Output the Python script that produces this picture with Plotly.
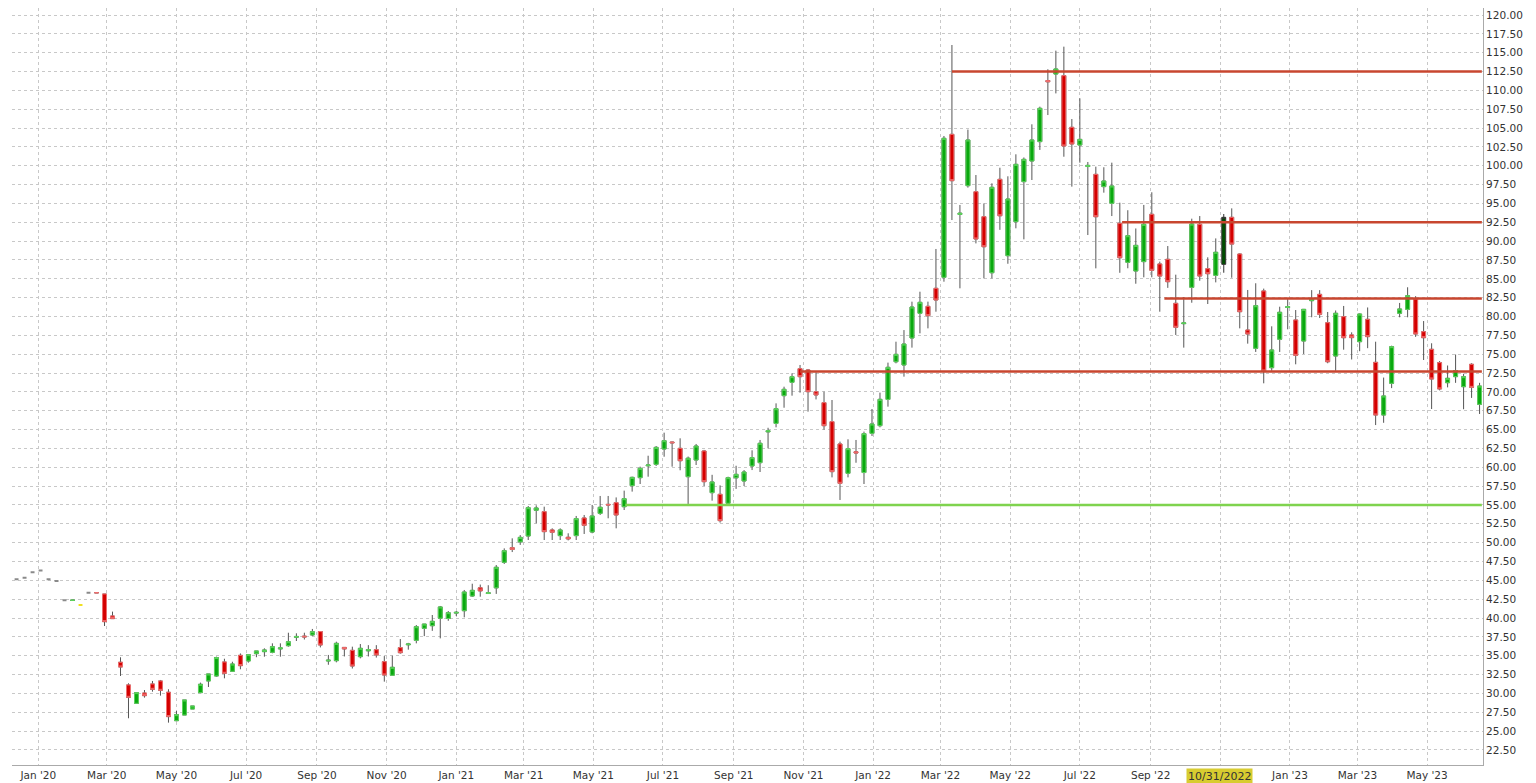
import plotly.graph_objects as go
import pandas as pd

# weekly candles, first week ending 2019-12-13
dates = pd.date_range("2019-12-13", periods=184, freq="7D")

opens = [45.14, 45.35, 46.07, 46.3, 45.14, 44.9, 42.35, 42.33, 41.73, 43.36,
         43.38, 43.19, 40.27, 34.13, 31.12, 28.68, 30.05, 31.25, 31.65, 30.15,
         26.38, 27.13, 27.93, 30.1, 31.65, 32.31, 34.17, 32.93, 35.05, 34.3,
         35.27, 35.54, 35.45, 35.9, 36.33, 37.45, 37.6, 37.75, 38.2, 34.3,
         34.34, 36.1, 35.71, 34.87, 35.65, 35.8, 34.21, 32.4, 36.07, 36.45,
         37.04, 38.63, 38.98, 39.98, 39.94, 40.65, 40.97, 42.92, 44.0, 43.25,
         44.0, 47.39, 49.33, 50.1, 50.88, 54.3, 54.11, 51.68, 50.93, 50.71,
         50.93, 53.27, 51.41, 53.89, 55.08, 55.3, 54.77, 57.56, 58.62, 60.2,
         60.39, 62.42, 63.35, 62.51, 58.75, 60.96, 62.16, 56.63, 56.41, 55.22,
         58.6, 58.18, 60.17, 60.61, 64.7, 65.82, 69.5, 71.27, 73.08, 72.91,
         70.03, 68.57, 66.05, 63.09, 59.2, 62.05, 59.3, 64.5, 65.52, 69.0,
         74.0, 73.57, 77.15, 80.43, 81.35, 83.74, 85.2, 104.17, 93.55, 97.36,
         96.56, 93.24, 85.81, 98.2, 88.07, 92.58, 97.89, 100.63, 103.2, 111.3,
         112.17, 111.95, 105.1, 102.75, 99.9, 98.86, 97.23, 95.02, 92.37, 87.19,
         86.04, 87.28, 93.56, 86.97, 87.59, 81.75, 79.05, 83.87, 92.23, 86.35,
         85.46, 86.92, 93.16, 88.29, 78.21, 75.78, 83.39, 73.21, 76.98, 81.2,
         79.54, 76.75, 82.1, 82.94, 79.18, 74.76, 79.98, 77.55, 76.66, 79.63,
         73.92, 66.93, 71.14, 80.43, 80.95, 82.32, 77.99, 75.65, 73.88, 71.22,
         72.02, 70.69, 73.66, 68.35]
highs = [45.14, 45.35, 46.07, 46.3, 45.14, 44.9, 42.35, 42.37, 41.73, 43.36,
         43.38, 43.19, 40.85, 34.79, 31.34, 30.1, 30.45, 31.65, 31.78, 30.55,
         27.67, 29.13, 28.33, 31.43, 32.58, 34.88, 34.6, 34.2, 35.3, 35.14,
         35.63, 35.98, 36.64, 36.64, 38.05, 37.97, 38.05, 38.55, 38.2, 35.1,
         36.86, 36.1, 36.2, 36.55, 36.4, 36.4, 34.95, 35.0, 37.21, 36.7,
         39.07, 39.2, 40.4, 41.6, 40.93, 40.93, 43.72, 44.55, 44.44, 44.35,
         47.03, 49.24, 50.57, 51.0, 54.86, 54.95, 54.77, 51.9, 51.9, 51.24,
         53.54, 53.67, 55.0, 56.19, 56.19, 56.0, 56.9, 58.75, 60.08, 61.53,
         62.82, 64.59, 63.4, 63.84, 61.42, 63.09, 62.3, 59.0, 57.6, 58.75,
         60.2, 59.63, 62.25, 63.62, 65.24, 68.48, 70.69, 72.46, 73.57, 73.04,
         72.6, 70.03, 68.92, 63.4, 63.71, 63.62, 64.73, 67.73, 69.9, 73.88,
         76.66, 78.2, 81.97, 83.29, 81.97, 88.96, 103.95, 116.02, 94.8, 104.8,
         98.77, 95.0, 97.67, 99.74, 98.6, 101.52, 101.1, 105.5, 107.84, 112.8,
         115.27, 115.8, 106.2, 108.95, 100.5, 99.88, 99.8, 100.41, 95.1, 94.1,
         91.68, 94.8, 96.48, 87.28, 89.35, 85.55, 82.58, 92.98, 93.33, 87.85,
         90.36, 93.6, 94.35, 88.38, 83.52, 84.41, 83.7, 78.7, 81.3, 82.3,
         80.86, 81.0, 83.5, 83.5, 80.6, 80.8, 81.4, 77.9, 80.4, 81.2,
         76.66, 71.9, 76.13, 81.8, 83.88, 82.7, 79.4, 76.45, 74.1, 73.5,
         74.96, 72.4, 73.8, 71.2]
lows = [45.14, 45.35, 46.07, 46.3, 45.14, 44.9, 42.35, 42.33, 41.73, 43.36,
        43.34, 38.94, 39.92, 32.31, 26.7, 28.6, 29.44, 30.23, 29.7, 26.12,
        26.3, 27.13, 27.93, 30.1, 30.85, 32.22, 32.0, 32.84, 33.2, 34.08,
        34.8, 34.87, 35.32, 34.87, 36.2, 36.95, 37.15, 37.6, 36.1, 33.8,
        34.12, 34.9, 33.3, 34.65, 34.9, 34.75, 31.56, 32.4, 35.27, 35.8,
        36.64, 37.6, 38.3, 37.3, 39.63, 40.27, 40.09, 42.83, 42.83, 43.2,
        43.2, 47.17, 48.75, 49.7, 50.35, 52.57, 50.35, 50.35, 50.35, 50.3,
        50.35, 51.15, 51.24, 53.67, 53.23, 51.9, 54.33, 56.77, 57.78, 58.75,
        60.17, 61.4, 60.08, 59.6, 55.13, 60.3, 57.51, 55.57, 52.66, 55.0,
        57.13, 57.51, 59.63, 59.37, 62.51, 65.3, 67.9, 69.5, 69.9, 67.38,
        69.0, 64.99, 58.66, 55.66, 58.66, 60.6, 57.78, 64.15, 65.3, 68.04,
        73.79, 72.02, 75.87, 77.77, 78.43, 80.64, 84.62, 92.8, 83.74, 97.1,
        89.7, 85.06, 85.06, 91.5, 87.0, 91.7, 90.24, 98.11, 102.1, 106.73,
        109.6, 101.2, 97.23, 100.41, 90.81, 86.39, 96.43, 93.33, 85.8, 86.4,
        84.35, 85.2, 85.2, 80.64, 83.8, 77.55, 75.87, 81.83, 84.75, 81.66,
        84.53, 85.81, 85.15, 78.43, 76.4, 75.3, 71.14, 72.8, 75.3, 78.3,
        73.66, 75.03, 79.9, 79.8, 73.8, 72.8, 75.6, 74.3, 75.4, 75.8,
        65.6, 65.9, 70.5, 79.9, 79.9, 77.3, 74.23, 67.73, 70.2, 70.6,
        71.2, 67.7, 69.2, 67.07]
closes = [45.14, 45.35, 46.07, 46.3, 45.14, 44.9, 42.35, 42.37, 41.73, 43.36,
          43.34, 39.52, 39.92, 33.5, 29.48, 30.1, 29.7, 30.54, 30.41, 26.92,
          27.18, 29.13, 28.33, 31.21, 32.58, 34.75, 32.67, 33.9, 33.68, 35.14,
          35.63, 35.76, 36.2, 36.03, 36.86, 37.55, 37.5, 38.19, 36.42, 34.4,
          36.64, 35.9, 33.63, 35.98, 35.8, 35.1, 32.44, 33.46, 35.4, 36.55,
          38.85, 39.2, 39.56, 41.47, 40.71, 40.75, 43.45, 43.67, 43.6, 43.35,
          46.73, 48.93, 49.1, 50.7, 54.64, 54.6, 51.46, 51.37, 51.68, 50.5,
          53.18, 52.3, 53.54, 54.69, 55.0, 53.67, 55.83, 58.66, 59.86, 60.3,
          62.64, 63.53, 63.25, 60.87, 61.2, 62.82, 58.09, 58.05, 52.92, 58.62,
          59.06, 59.37, 61.28, 63.18, 64.85, 67.77, 70.34, 72.02, 72.02, 70.03,
          69.59, 65.52, 59.42, 57.87, 62.47, 61.9, 64.46, 65.74, 69.01, 73.26,
          74.98, 76.35, 81.26, 81.88, 80.11, 82.19, 103.64, 98.02, 93.7, 103.42,
          90.28, 89.26, 97.14, 93.37, 95.59, 100.19, 100.85, 103.42, 107.62, 111.15,
          112.84, 102.62, 102.89, 103.5, 100.05, 93.24, 97.98, 97.32, 87.8, 90.72,
          89.44, 92.23, 86.13, 85.37, 84.62, 78.57, 79.15, 92.27, 85.37, 85.68,
          88.52, 93.16, 89.61, 80.64, 77.68, 81.43, 72.77, 75.56, 80.56, 81.3,
          74.85, 80.95, 82.32, 80.29, 74.0, 80.43, 77.19, 77.2, 80.33, 77.33,
          66.93, 69.46, 76.0, 81.0, 82.76, 77.68, 77.19, 71.71, 70.39, 71.8,
          72.82, 72.02, 70.6, 70.78]

grey_idx = [0, 1, 2, 3, 4, 5, 6, 9]
yellow_idx = [8]
selected_idx = [151]

# support / resistance lines: (start date, level, colour)
levels = [("2022-03-11", 112.5, "#c8462f"),
          ("2022-08-07", 92.5, "#c8462f"),
          ("2022-09-13", 82.4, "#c8462f"),
          ("2021-10-29", 72.7, "#c8462f"),
          ("2021-05-29", 55.0, "#7fd34e")]
line_end = "2023-06-18"

df = pd.DataFrame({"date": dates, "open": opens, "high": highs, "low": lows, "close": closes})
special = set(grey_idx + yellow_idx + selected_idx)
normal = df[~df.index.isin(special)]

fig = go.Figure()

# wicks
fig.add_trace(go.Candlestick(
    x=normal["date"], open=normal["open"], high=normal["high"], low=normal["low"], close=normal["close"],
    increasing=dict(line=dict(color="#555555", width=1), fillcolor="#0aa80f"),
    decreasing=dict(line=dict(color="#555555", width=1), fillcolor="#d40000"),
    whiskerwidth=0, hoverinfo="skip"))

# bodies
body_hi = normal[["open", "close"]].max(axis=1)
body_lo = normal[["open", "close"]].min(axis=1)
fig.add_trace(go.Candlestick(
    x=normal["date"], open=normal["open"], high=body_hi, low=body_lo, close=normal["close"],
    increasing=dict(line=dict(color="#5fd45f", width=1), fillcolor="#0aa80f"),
    decreasing=dict(line=dict(color="#f07070", width=1), fillcolor="#d40000"),
    whiskerwidth=0, hoverinfo="skip"))

for idx, col, fill in [(grey_idx, "#8a8a8a", "#8a8a8a"), (yellow_idx, "#f0e020", "#f0e020"),
                       (selected_idx, "#333333", "#004d00")]:
    sub = df.loc[idx]
    w = 1 if idx is selected_idx else 2
    fig.add_trace(go.Candlestick(
        x=sub["date"], open=sub["open"], high=sub["high"], low=sub["low"], close=sub["close"],
        increasing=dict(line=dict(color=col, width=w), fillcolor=fill),
        decreasing=dict(line=dict(color=col, width=w), fillcolor=fill),
        whiskerwidth=0, hoverinfo="skip"))

for start, lvl, col in levels:
    fig.add_trace(go.Scatter(x=[start, line_end], y=[lvl, lvl], mode="lines",
                             line=dict(color=col, width=2.5), hoverinfo="skip"))

fig.add_annotation(x="2022-10-31", y=0, yref="paper", yanchor="top", yshift=-3,
                   text="10/31/2022", showarrow=False, bgcolor="#d8cc30",
                   font=dict(size=11, color="#333333"))

fig.update_layout(
    width=1536, height=783, showlegend=False,
    plot_bgcolor="white", paper_bgcolor="white",
    margin=dict(l=4, r=61, t=0, b=26),
    font=dict(family="DejaVu Sans", size=10.5, color="#333333"),
    xaxis=dict(rangeslider=dict(visible=False), type="date",
               range=["2019-12-09", "2023-06-19"],
               tick0="2020-01-01", dtick="M2", tickformat="%b '%y",
               showgrid=True, gridcolor="#c8c8c8", griddash="dot",
               showline=True, linecolor="#aaaaaa", ticks=""),
    yaxis=dict(side="right", range=[20.5, 120.93], dtick=2.5, tick0=0,
               tickformat=".2f", showgrid=True, gridcolor="#c8c8c8", griddash="dot",
               showline=True, linecolor="#aaaaaa", zeroline=False),
)

fig.write_html("out.html")
